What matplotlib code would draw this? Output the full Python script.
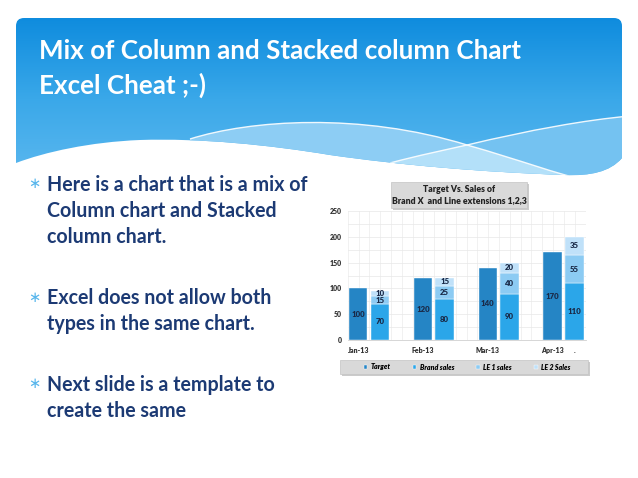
import matplotlib
matplotlib.use("Agg")
import matplotlib.pyplot as plt
import numpy as np
from matplotlib.colors import LinearSegmentedColormap
from matplotlib.patches import PathPatch, Rectangle
from matplotlib.path import Path
from matplotlib.ticker import FixedLocator, MultipleLocator

W, H = 638, 478

# chart data
months = ["Jan-13", "Feb-13", "Mar-13", "Apr-13"]
target = np.array([100, 120, 140, 170])
brand_sales = np.array([70, 80, 90, 110])
le1_sales = np.array([15, 25, 40, 55])
le2_sales = np.array([10, 15, 20, 35])
series_names = ["Target", "Brand sales", "LE 1 sales", "LE 2 Sales"]
y_ticks = [0, 50, 100, 150, 200, 250]

slide_title = ["Mix of Column and Stacked column Chart", "Excel Cheat ;-)"]
bullets = [
    ["Here is a chart that is a mix of", "Column chart and Stacked", "column chart."],
    ["Excel does not allow both", "types in the same chart."],
    ["Next slide is a template to", "create the same"],
]
chart_title = ["Target Vs. Sales of", "Brand X  and Line extensions 1,2,3"]

FONT = ["Lato", "DejaVu Sans"]
NAVY = "#1c3a74"

fig = plt.figure(figsize=(W / 100, H / 100), dpi=100)
bg = fig.add_axes([0, 0, 1, 1])
bg.axis("off")

M, L, C3, C4, CL = Path.MOVETO, Path.LINETO, Path.CURVE3, Path.CURVE4, Path.CLOSEPOLY


def bez_path(verts, codes, **kw):
    p = PathPatch(Path(verts, codes), **kw)
    bg.add_patch(p)
    return p


# header shape with wavy bottom
r = 8
hv = [(16, 18 + r), (16, 18), (16 + r, 18), (622 - r, 18), (622, 18), (622, 18 + r),
      (622, 158), (610, 172), (590, 176), (565, 175),
      (480, 172), (400, 165), (330, 155),
      (270, 145), (200, 138), (140, 140),
      (90, 142), (45, 152), (16, 163), (16, 18 + r)]
hc = [M, C3, C3, L, C3, C3, L, C4, C4, C4, C4, C4, C4, C4, C4, C4, C4, C4, C4, CL]
header = bez_path(hv, hc, facecolor="none", edgecolor="none")

cmap = LinearSegmentedColormap.from_list("hdr", ["#0f8cde", "#3aa8e9", "#5cb8ef"])
grad = np.linspace(0, 1, 200).reshape(-1, 1)
im = bg.imshow(grad, extent=(16, 622, 180, 18), aspect="auto", cmap=cmap, origin="upper")
im.set_clip_path(header)

line_a = [(190, 139), (250, 120), (360, 112), (467, 145), (520, 160), (560, 175), (578, 178)]
line_b = [(390, 163), (420, 155), (445, 150), (467, 145), (530, 130), (585, 120), (630, 116)]

# light band below line A
p1 = bez_path(line_a + [(640, 200), (180, 200), (190, 139)],
              [M, C4, C4, C4, C4, C4, C4, L, L, CL], facecolor="#8dcdf4", edgecolor="none")
p1.set_clip_path(header)
# wedge between A and B on the right
p2 = bez_path(line_b[3:] + [(640, 116), (640, 190), (578, 178), (560, 175), (520, 160), (467, 145), (467, 145)],
              [M, C4, C4, C4, L, L, L, C4, C4, C4, CL], facecolor="#74c2f1", edgecolor="none")
p2.set_clip_path(header)
# region below both lines
p3 = bez_path(line_b[:4] + line_a[4:] + [(640, 200), (380, 200), (390, 163)],
              [M, C4, C4, C4, C4, C4, C4, L, L, CL], facecolor="#b3e0f9", edgecolor="none")
p3.set_clip_path(header)
for ln in (line_a, line_b):
    pp = bez_path(ln, [M, C4, C4, C4, C4, C4, C4], facecolor="none", edgecolor="white", lw=1.0, alpha=0.9)
    pp.set_clip_path(header)

bg.set_xlim(0, W)
bg.set_ylim(H, 0)

renderer = fig.canvas.get_renderer()


def fit_size(s, width_px, **kw):
    t = bg.text(0, 0, s, fontsize=10, **kw)
    w = t.get_window_extent(renderer).width
    t.remove()
    return 10 * width_px / w


# slide title
ts = fit_size(slide_title[0], 483, family=FONT, weight="bold")
for i, line in enumerate(slide_title):
    bg.text(39, 51 + 34 * i, line, fontsize=ts, family=FONT, weight="bold", color="white", va="center")

# bullets
bs = fit_size(bullets[0][0], 260, family=FONT, weight="bold")
starts = [185, 298, 385]
for y0, lines in zip(starts, bullets):
    bg.text(34, y0 - 1, "\u2217", fontsize=bs * 0.75, color="#55b5ec", ha="center", va="center",
            family="DejaVu Sans")
    for j, line in enumerate(lines):
        bg.text(47, y0 + 26 * j, line, fontsize=bs, family=FONT, weight="bold", color=NAVY, va="center")

# chart title box and legend box
bg.add_patch(Rectangle((393, 184), 136, 26, facecolor="#a9a9a9", edgecolor="none", alpha=0.6))
bg.add_patch(Rectangle((391, 182), 136, 26, facecolor="#d9d9d9", edgecolor="#c4c4c4", lw=0.5))
cs = fit_size(chart_title[1], 134, family=FONT, weight="heavy")
for i, line in enumerate(chart_title):
    bg.text(459, 189.6 + 10.8 * i, line, fontsize=cs, family=FONT, weight="heavy", color="#222222",
            ha="center", va="center")
bg.add_patch(Rectangle((342, 362), 248, 14, facecolor="#a9a9a9", edgecolor="none", alpha=0.6))
bg.add_patch(Rectangle((340, 360), 248, 14, facecolor="#d9d9d9", edgecolor="#c4c4c4", lw=0.5))

# chart
ax = fig.add_axes([347.7 / W, 1 - 340 / H, (585.5 - 347.7) / W, 129 / H])
x = np.arange(len(months))
off, bw = 0.167, 0.285
colors = ["#2585c5", "#2ba6e9", "#8ccbf3", "#c0e1f9"]
b_t = ax.bar(x - off, target, bw, color=colors[0], edgecolor="white", lw=0.3)
b_b = ax.bar(x + off, brand_sales, bw, color=colors[1], edgecolor="white", lw=0.3)
b_1 = ax.bar(x + off, le1_sales, bw, bottom=brand_sales, color=colors[2], edgecolor="white", lw=0.3)
b_2 = ax.bar(x + off, le2_sales, bw, bottom=brand_sales + le1_sales, color=colors[3], edgecolor="white", lw=0.3)
for c in (b_t, b_b, b_1, b_2):
    ax.bar_label(c, label_type="center", fontsize=5.6, fontweight="heavy", color="#1a2a48", family=FONT)

ax.set_xlim(-0.33, 3.34)
ax.set_ylim(0, 250)
ax.set_yticks(y_ticks)
ax.yaxis.set_minor_locator(MultipleLocator(25))
ax.set_xticks(list(x - off) + [x[-1] + off])
ax.set_xticklabels(months + ["."])
ax.xaxis.set_minor_locator(FixedLocator(np.linspace(-0.33, 3.34, 23)))
ax.tick_params(which="both", length=0)
ax.tick_params(axis="y", pad=4.5, labelsize=5.0, labelcolor="#333333")
ax.tick_params(axis="x", pad=5.0, labelsize=5.0, labelcolor="#333333")
for lab in ax.get_xticklabels() + ax.get_yticklabels():
    lab.set_fontweight("heavy")
    lab.set_family(FONT)
ax.set_axisbelow(True)
ax.grid(which="both", axis="y", color="#e8e8e8", lw=0.5)
ax.grid(which="minor", axis="x", color="#ececec", lw=0.5)
for s in ax.spines.values():
    s.set_visible(False)
ax.spines["bottom"].set_visible(True)
ax.spines["bottom"].set_color("#d0d0d0")
ax.spines["bottom"].set_linewidth(0.6)

ax.legend([b_t, b_b, b_1, b_2], series_names, loc="center", bbox_to_anchor=(467 / W, 1 - 367 / H),
          bbox_transform=fig.transFigure, ncol=4, frameon=False,
          prop=dict(family=FONT, weight="heavy", style="italic", size=5.0),
          handlelength=0.5, handleheight=0.5, handletextpad=0.5, columnspacing=3.2)

fig.savefig("out.png", dpi=100)
